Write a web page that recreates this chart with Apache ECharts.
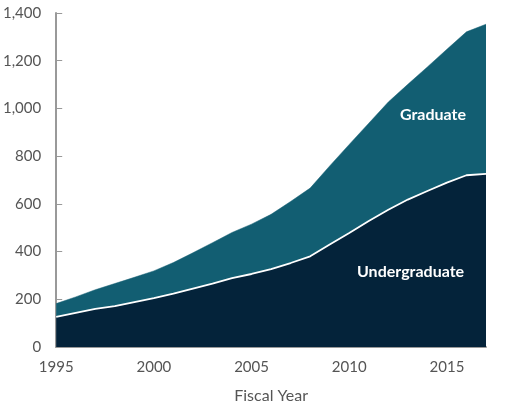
<!DOCTYPE html>
<html lang="en">
  <head>
    <meta charset="utf-8" />
    <title>Enrollment by level</title>
    <script src="https://cdn.jsdelivr.net/npm/echarts@6/dist/echarts.min.js"></script>
    <style>
      html, body { margin: 0; padding: 0; background: #fff; }
      #main { width: 506px; height: 413px; }
    </style>
  </head>
  <body>
    <div id="main"></div>
    <script>
      var years = ["1995", "1996", "1997", "1998", "1999", "2000", "2001", "2002", "2003",
        "2004", "2005", "2006", "2007", "2008", "2009", "2010", "2011", "2012", "2013",
        "2014", "2015", "2016", "2017"];
      var undergraduate = [126, 143, 160, 171, 188, 205, 224, 245, 266, 289, 306, 326,
        352, 380, 430, 478, 528, 575, 618, 654, 689, 720, 726];
      var graduate = [56, 67, 80, 95, 104, 114, 130, 150, 171, 191, 209, 230,
        258, 286, 329, 371, 410, 452, 483, 520, 559, 601, 627];

      var chart = echarts.init(document.getElementById("main"));
      var labelFont = "Lato, 'Open Sans', sans-serif";

      function everyFifth(i) { return i % 5 === 0; }

      chart.setOption({
        animation: false,
        grid: { left: 56, right: 20, top: 13, bottom: 66 },
        xAxis: {
          type: "category",
          data: years,
          boundaryGap: false,
          name: "Fiscal Year",
          nameLocation: "middle",
          nameGap: 41,
          nameTextStyle: { color: "#555", fontSize: 16, fontFamily: labelFont },
          axisLine: { lineStyle: { color: "#999", width: 2 } },
          axisTick: { inside: true, length: 6, interval: everyFifth, lineStyle: { color: "#999" } },
          axisLabel: {
            color: "#555", fontSize: 15, fontFamily: labelFont, margin: 13,
            interval: everyFifth
          },
          splitLine: { show: false }
        },
        yAxis: {
          type: "value",
          min: 0,
          max: 1400,
          interval: 200,
          axisLine: { show: true, lineStyle: { color: "#999", width: 2 } },
          axisTick: { show: true, inside: true, length: 6, lineStyle: { color: "#999" } },
          axisLabel: {
            color: "#555", fontSize: 15, fontFamily: labelFont, margin: 15,
            formatter: function (v) { return v.toLocaleString("en-US"); }
          },
          splitLine: { show: false }
        },
        series: [
          {
            name: "Undergraduate",
            type: "line",
            stack: "total",
            data: undergraduate,
            symbol: "none",
            z: 3,
            lineStyle: { color: "#ffffff", width: 1.8 },
            areaStyle: { color: "#04233a", opacity: 1 }
          },
          {
            name: "Graduate",
            type: "line",
            stack: "total",
            data: graduate,
            symbol: "none",
            z: 2,
            lineStyle: { color: "#125e72", width: 0.5 },
            areaStyle: { color: "#125e72", opacity: 1 }
          }
        ],
        graphic: [
          {
            type: "text", left: 400, top: 107, z: 10,
            style: { text: "Graduate", fill: "#ffffff", fontSize: 16, fontWeight: "bold", fontFamily: labelFont }
          },
          {
            type: "text", left: 357, top: 264, z: 10,
            style: { text: "Undergraduate", fill: "#ffffff", fontSize: 16, fontWeight: "bold", fontFamily: labelFont }
          }
        ]
      });
    </script>
  </body>
</html>
